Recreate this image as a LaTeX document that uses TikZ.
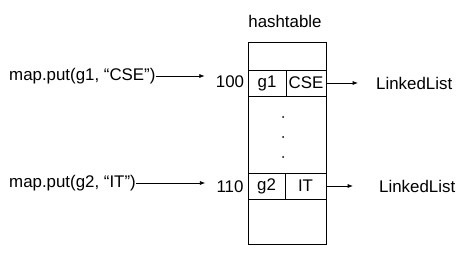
\documentclass[tikz,border=0pt]{standalone}
\usepackage{fontspec}
\setmainfont{Liberation Sans}
\usetikzlibrary{arrows.meta}
\tikzset{
  lbl/.style={inner sep=0pt,font=\fontsize{14.4}{16}\selectfont},
  cell/.style={draw,line width=.6pt,inner sep=0pt,minimum height=.78cm,font=\fontsize{14.4}{16}\selectfont},
  tablebox/.style={draw,line width=.6pt,inner sep=0pt,minimum width=2.34cm,minimum height=6.06cm},
  putarr/.style={-{Latex[length=1.6mm,width=1.2mm]},line width=.6pt},
  dot/.style={circle,fill,inner sep=0pt,minimum size=.6mm}
}

\begin{document}
\begin{tikzpicture}[x=1cm,y=1cm]
  \useasboundingbox (0,0) rectangle (13.95,7.56);

  % the table
  \node[tablebox] (table) at (8.61,3.27) {};
  \node[lbl] (title) at (8.55,6.93) {hashtable};

  % slot 100
  \node[cell,minimum width=1.14cm] (k1) at (8.01,5.07) {g1};
  \node[cell,minimum width=1.20cm] (v1) at (9.18,5.07) {CSE};
  % slot 110
  \node[cell,minimum width=1.11cm] (k2) at (7.995,1.98) {g2};
  \node[cell,minimum width=1.23cm] (v2) at (9.165,1.98) {IT};

  \foreach \y in {4.05,3.45,2.85}
    \node[dot] at (8.49,\y) {};

  % indices
  \node[lbl] (idx1) at (6.90,5.10) {100};
  \node[lbl] (idx2) at (6.90,1.95) {110};

  % calls
  \node[lbl,anchor=west] (put1) at (0.27,5.28) {map.put(g1, “CSE”)};
  \node[lbl,anchor=west] (put2) at (0.27,2.07) {map.put(g2, “IT”)};
  \draw[putarr,shorten >=.33cm] (put1.east) -- (put1.east -| idx1.west);
  \draw[putarr,shorten >=.33cm] (put2.east) -- (put2.east -| idx2.west);

  % chains
  \node[lbl,anchor=west] (list1) at (11.28,5.07) {LinkedList};
  \node[lbl,anchor=west] (list2) at (11.37,1.98) {LinkedList};
  \draw[putarr,shorten >=.54cm] (v1.east) -- (list1.west);
  \draw[putarr,shorten >=.78cm] (v2.east) -- (list2.west);
\end{tikzpicture}
\end{document}
